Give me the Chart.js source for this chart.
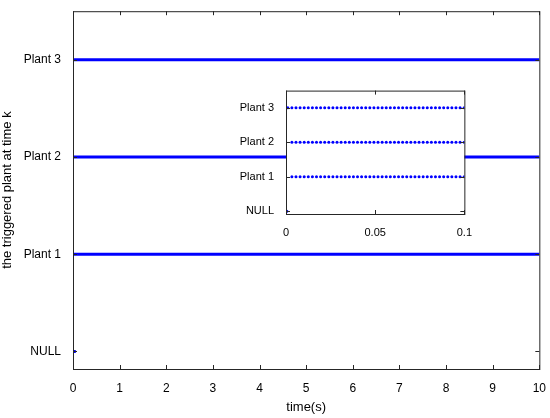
<!DOCTYPE html>
<html>
<head>
<meta charset="utf-8">
<script src="https://cdn.jsdelivr.net/npm/chart.js@4"></script>
<style>
  body { margin: 0; background: #fff; }
  #wrap { position: relative; width: 550px; height: 418px; }
  #main { position: absolute; left: 0; top: 0; }
  #inset { position: absolute; left: 226px; top: 80px; }
</style>
</head>
<body>
<div id="wrap">
  <canvas id="main" width="550" height="418"></canvas>
  <canvas id="inset" width="250" height="160"></canvas>
</div>
<script>
// categories on the y axis
const plantLabels = ['NULL', 'Plant 1', 'Plant 2', 'Plant 3'];
const mainTicksX = [0, 1, 2, 3, 4, 5, 6, 7, 8, 9, 10];
const insetTicksX = [0, 0.05, 0.1];

// main plot: each plant triggered over the whole run
const mainTimes = [0.002, 10];
const nullTimes = [0, 0.06];

// inset: sampled trigger instants in the first 0.1 s
const insetTimes = [0.001, 0.0033, 0.0056, 0.0079, 0.0102, 0.0125, 0.0148, 0.0171, 0.0194, 0.0217,
  0.024, 0.0263, 0.0286, 0.0309, 0.0332, 0.0355, 0.0378, 0.0401, 0.0424, 0.0447,
  0.047, 0.0493, 0.0516, 0.0539, 0.0562, 0.0585, 0.0608, 0.0631, 0.0654, 0.0677,
  0.07, 0.0723, 0.0746, 0.0769, 0.0792, 0.0815, 0.0838, 0.0861, 0.0884, 0.0907,
  0.093, 0.0953, 0.0976, 0.0999];
const plant3Start = 0, plant2Start = 1, plant1Start = 1;
const insetNull = [0.0005];

const blue = '#0000ff';
Chart.defaults.font.family = 'Liberation Sans, Arial, sans-serif';
Chart.defaults.color = '#000';
Chart.defaults.animation = false;

const boxPlugin = {
  id: 'box',
  beforeDraw(chart) {
    const a = chart.chartArea, c = chart.ctx;
    c.save();
    c.fillStyle = '#fff';
    c.fillRect(a.left, a.top, a.right - a.left, a.bottom - a.top);
    c.restore();
  },
  afterDraw(chart) {
    const a = chart.chartArea, c = chart.ctx;
    c.save();
    c.strokeStyle = '#262626';
    c.lineWidth = 1;
    c.strokeRect(a.left + 0.5, a.top + 0.5, a.right - a.left, a.bottom - a.top);
    // inward ticks
    const xs = chart.scales.x, ys = chart.scales.y;
    xs.ticks.forEach(t => {
      const px = Math.round(xs.getPixelForValue(t.value)) + 0.5;
      c.beginPath();
      c.moveTo(px, a.bottom); c.lineTo(px, a.bottom - 4);
      c.moveTo(px, a.top); c.lineTo(px, a.top + 4);
      c.stroke();
    });
    ys.ticks.forEach(t => {
      const py = Math.round(ys.getPixelForValue(t.value)) + 0.5;
      c.beginPath();
      c.moveTo(a.left, py); c.lineTo(a.left + 4, py);
      c.moveTo(a.right, py); c.lineTo(a.right - 4, py);
      c.stroke();
    });
    c.restore();
  }
};

function lineSet(times, level) {
  return {
    data: times.map(t => ({ x: t, y: level })),
    borderColor: blue, backgroundColor: blue,
    borderWidth: 3, pointRadius: 0, showLine: true
  };
}

function dotSet(times, level) {
  return {
    data: times.map(t => ({ x: t, y: level })),
    borderColor: blue, backgroundColor: blue,
    pointRadius: 1.5, borderWidth: 0, showLine: false
  };
}

new Chart(document.getElementById('main'), {
  type: 'scatter',
  data: {
    datasets: [
      lineSet(nullTimes, 0),
      lineSet(mainTimes, 1),
      lineSet(mainTimes, 2),
      lineSet(mainTimes, 3)
    ]
  },
  options: {
    responsive: false,
    layout: { padding: { top: 4, right: 8 } },
    plugins: { legend: { display: false }, tooltip: { enabled: false } },
    scales: {
      x: {
        type: 'linear', min: 0, max: 10,
        afterBuildTicks: s => { s.ticks = mainTicksX.map(v => ({ value: v })); },
        afterFit: s => { s.height = 49; },
        grid: { display: false }, border: { display: false },
        ticks: { font: { size: 12 }, padding: 4 },
        title: { display: true, text: 'time(s)', font: { size: 13 }, padding: { top: 0, bottom: 3 } }
      },
      y: {
        type: 'linear', min: -0.18, max: 3.5,
        afterBuildTicks: s => { s.ticks = [0, 1, 2, 3].map(v => ({ value: v })); },
        afterFit: s => { s.width = 73; },
        grid: { display: false }, border: { display: false },
        ticks: { font: { size: 12 }, padding: 4, callback: v => plantLabels[v] },
        title: { display: true, text: 'the triggered plant at time k', font: { size: 13 }, padding: 0 }
      }
    }
  },
  plugins: [boxPlugin]
});

new Chart(document.getElementById('inset'), {
  type: 'scatter',
  data: {
    datasets: [
      dotSet(insetNull, 0),
      dotSet(insetTimes.slice(plant1Start), 1),
      dotSet(insetTimes.slice(plant2Start), 2),
      dotSet(insetTimes.slice(plant3Start), 3)
    ]
  },
  options: {
    responsive: false,
    layout: { padding: { top: 0, right: 11 } },
    plugins: { legend: { display: false }, tooltip: { enabled: false } },
    scales: {
      x: {
        type: 'linear', min: 0, max: 0.1,
        afterBuildTicks: s => { s.ticks = insetTicksX.map(v => ({ value: v })); },
        afterFit: s => { s.height = 26; },
        grid: { display: false }, border: { display: false },
        ticks: { font: { size: 11 }, padding: 4, callback: v => String(v) }
      },
      y: {
        type: 'linear', min: -0.08, max: 3.5,
        afterBuildTicks: s => { s.ticks = [0, 1, 2, 3].map(v => ({ value: v })); },
        afterFit: s => { s.width = 60; },
        grid: { display: false }, border: { display: false },
        ticks: { font: { size: 11 }, padding: 4, callback: v => plantLabels[v] }
      }
    }
  },
  plugins: [boxPlugin]
});
</script>
</body>
</html>
